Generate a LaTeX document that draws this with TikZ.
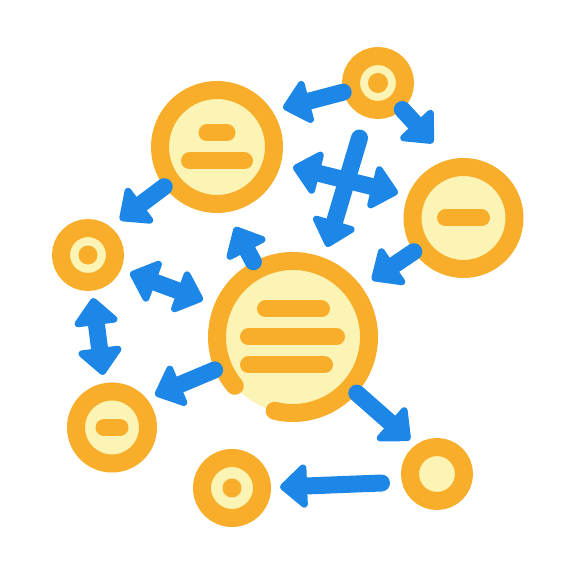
\documentclass[tikz,border=0pt]{standalone}
\usepackage{tikz}
\usetikzlibrary{arrows.meta, positioning, calc}
\usepackage{xcolor}

\definecolor{iconorange}{HTML}{F8AE2A}
\definecolor{iconyellow}{HTML}{FBF4B4}
\definecolor{iconblue}{HTML}{1C87E6}

\begin{document}
\begin{tikzpicture}[
    hub/.style={circle, draw=iconorange, fill=iconyellow, line width=0.36cm, inner sep=0pt},
    dot/.style={fill=iconorange},
    bar/.style={draw=iconorange, line width=0.34cm, line cap=round},
    arrow/.style={draw=iconblue, line width=0.34cm, line cap=round,
        -{Triangle[length=0.58cm, width=1.0cm, round, line width=0.14cm]}},
    twoway/.style={arrow, {Triangle[length=0.58cm, width=1.0cm, round, line width=0.14cm]}-{Triangle[length=0.58cm, width=1.0cm, round, line width=0.14cm]}}
]
    \useasboundingbox[fill=white] (0,0) rectangle (11.52,11.52);

    % Central circle with open ring
    \node[circle, fill=iconyellow, minimum size=3.04cm, inner sep=0pt, outer sep=0.18cm] (big) at (5.86, 4.78) {};
    \draw[bar, line width=0.36cm] (big.center) ++(256:1.52) arc[start angle=256, end angle=580, radius=1.52];
    \draw[bar] ([shift={(-0.55,0.56)}]big.center) -- ([shift={(0.57,0.56)}]big.center);
    \draw[bar] ([shift={(-0.89,0)}]big.center) -- ([shift={(0.87,0)}]big.center);
    \draw[bar] ([shift={(-0.89,-0.56)}]big.center) -- ([shift={(0.63,-0.56)}]big.center);

    % Upper circles
    \node[hub, minimum size=2.28cm] (tl) at (4.34, 8.58) {};
    \draw[bar] ([shift={(-0.2,0.28)}]tl.center) -- ([shift={(0.2,0.28)}]tl.center);
    \draw[bar] ([shift={(-0.55,-0.28)}]tl.center) -- ([shift={(0.55,-0.28)}]tl.center);

    \node[hub, minimum size=1.08cm] (tr) at (7.56, 9.86) {};
    \fill[dot] (tr.center) circle (0.2);

    \node[hub, minimum size=2.04cm] (rt) at (9.27, 7.16) {};
    \draw[bar] ([shift={(-0.36,0)}]rt.center) -- ([shift={(0.36,0)}]rt.center);

    % Left circles
    \node[hub, minimum size=1.08cm] (lt) at (1.76, 6.42) {};
    \fill[dot] (lt.center) circle (0.19);

    \node[hub, minimum size=1.44cm] (bl) at (2.24, 2.97) {};
    \draw[bar] ([shift={(-0.16,0)}]bl.center) -- ([shift={(0.16,0)}]bl.center);

    % Lower circles
    \node[hub, minimum size=1.2cm] (bm) at (4.64, 1.76) {};
    \fill[dot] (bm.center) circle (0.19);

    \node[hub, minimum size=1.08cm] (br) at (8.74, 2.04) {};

    % Free arrow ends
    \coordinate (tipA) at (5.66, 9.36);
    \coordinate (tipB) at (8.66, 8.66);
    \coordinate (xtop) at (7.19, 8.76);
    \coordinate (xbot) at (6.54, 6.58);
    \coordinate (xleft) at (5.86, 8.18);
    \coordinate (xright) at (7.96, 7.66);
    \coordinate (tipD) at (2.40, 7.12);
    \coordinate (tipE) at (7.44, 5.92);
    \coordinate (tipF) at (4.70, 6.98);
    \coordinate (midA) at (2.60, 6.06);
    \coordinate (midB) at (4.06, 5.52);
    \coordinate (sideA) at (1.86, 5.56);
    \coordinate (sideB) at (2.06, 4.02);
    \coordinate (tipI) at (3.10, 3.62);
    \coordinate (tipJ) at (8.20, 2.72);
    \coordinate (lowA) at (7.63, 1.86);
    \coordinate (lowB) at (5.60, 1.78);

    % Arrows
    \draw[arrow] (tr) -- (tipA);
    \draw[arrow] (tr) -- (tipB);
    \draw[arrow] (xtop) -- (xbot);
    \draw[twoway] (xleft) -- (xright);
    \draw[arrow] (tl) -- (tipD);
    \draw[arrow] (rt) -- (tipE);
    \draw[arrow] (big) -- (tipF);
    \draw[twoway] (midA) -- (midB);
    \draw[twoway] (sideA) -- (sideB);
    \draw[arrow] (big) -- (tipI);
    \draw[arrow] (big) -- (tipJ);
    \draw[arrow] (lowA) -- (lowB);
\end{tikzpicture}
\end{document}
